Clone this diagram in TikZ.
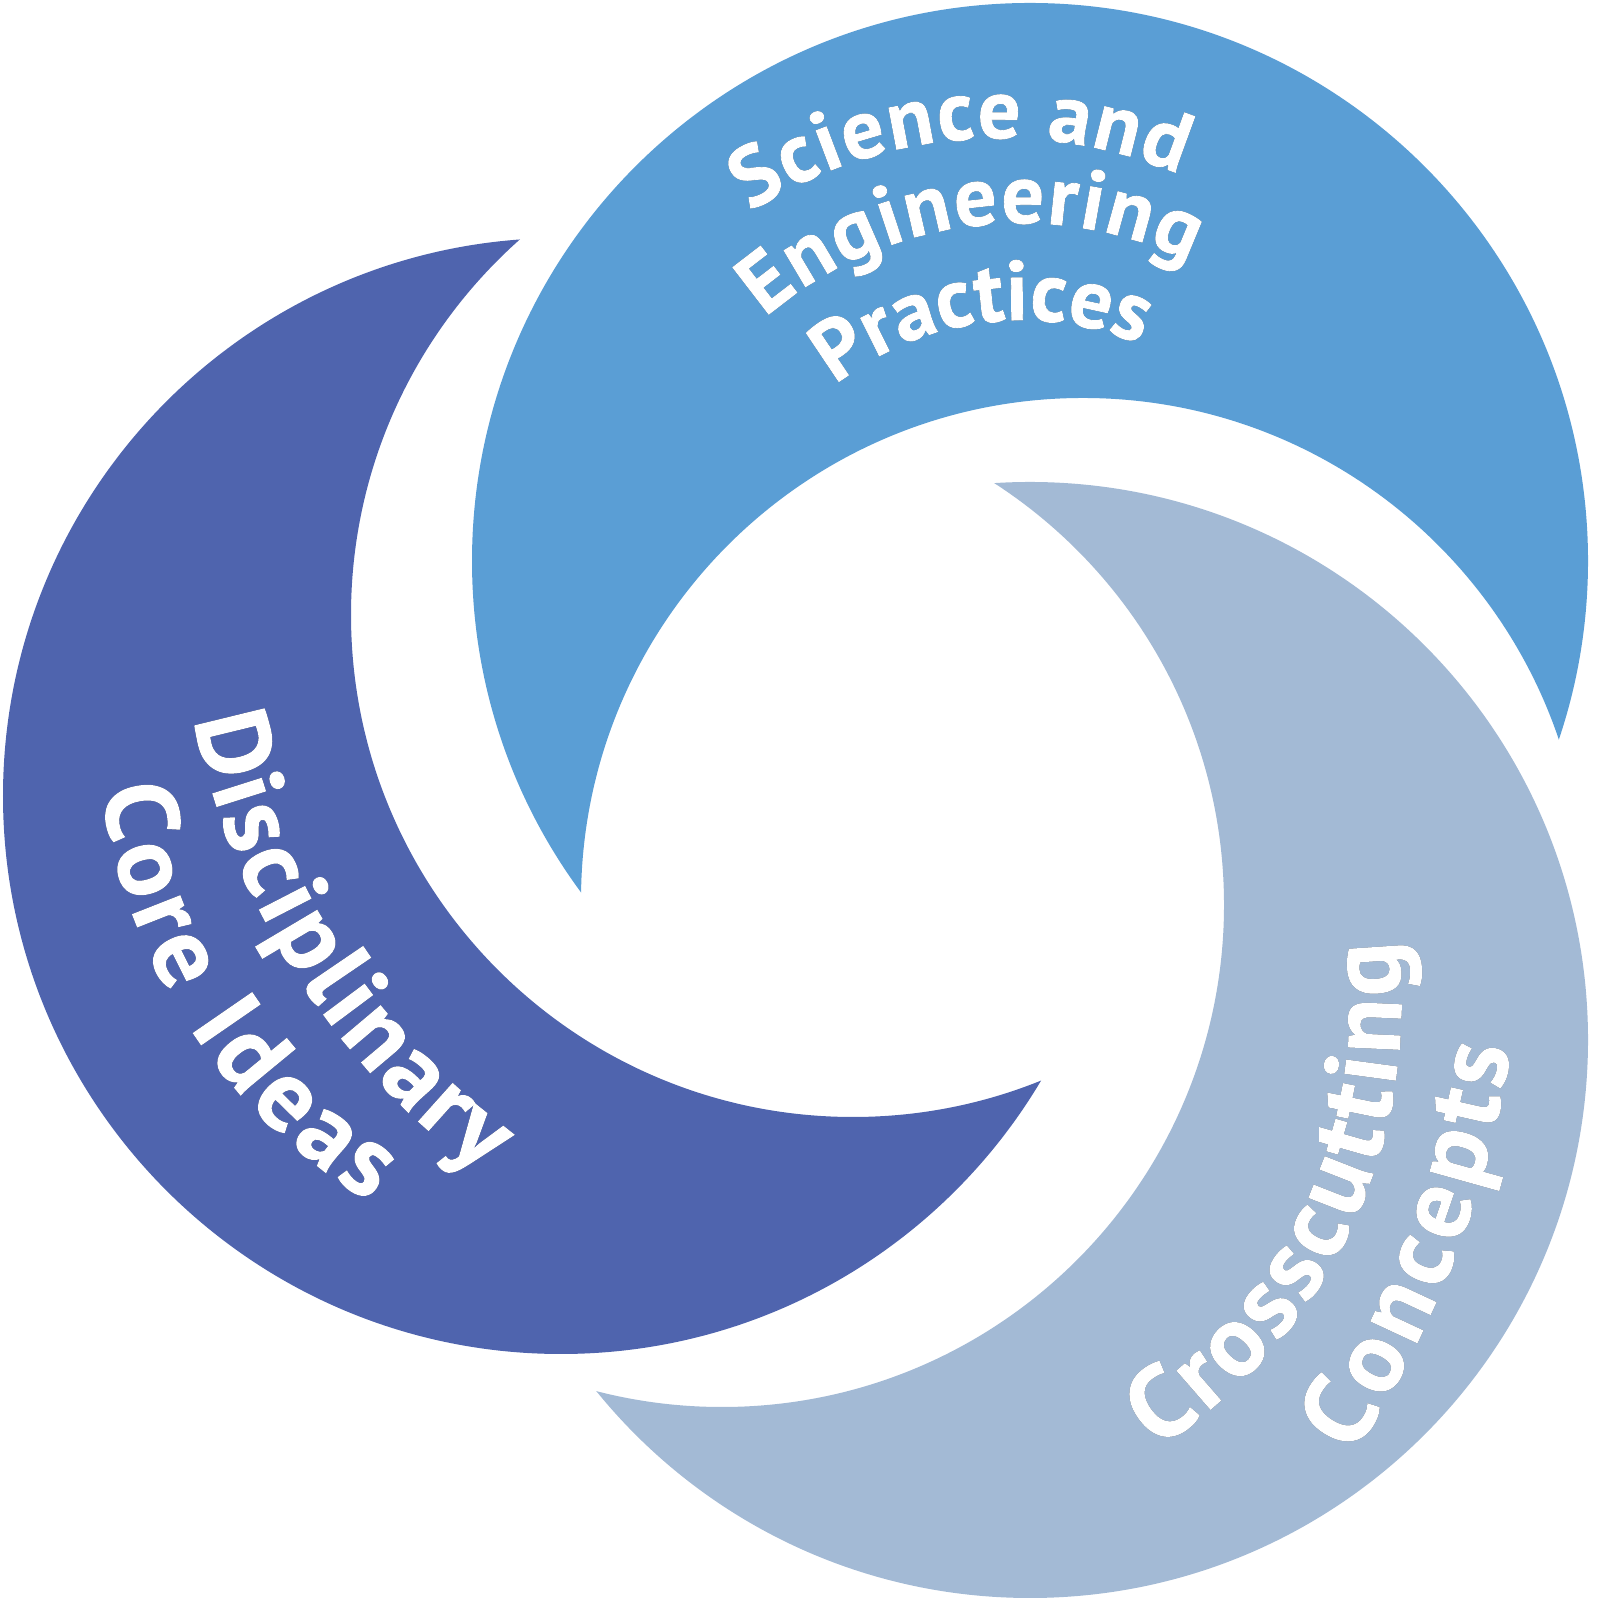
\documentclass[tikz,border=0pt]{standalone}
\usepackage{fontspec}
\newfontfamily\labelsans{PT Sans}[BoldFeatures={FakeBold=1}]
\usetikzlibrary{decorations.text}
\definecolor{practblue}{HTML}{5A9ED5}
\definecolor{coreblue}{HTML}{4F64AE}
\definecolor{crossblue}{HTML}{A3BAD5}
\newcommand{\topfont}{\labelsans\fontsize{24}{29}\selectfont\bfseries}
\newcommand{\sidefont}{\labelsans\fontsize{29}{34}\selectfont\bfseries}
% centre, radius, start, end, colour, font, text
\newcommand{\arclabel}[7]{%
  \path[xshift=0.3mm,yshift=-0.35mm,decorate,decoration={text along path,text align={fit to path},text color=#5!40!black,text={|#6|#7}}] (#1) ++(#3:#2) arc[start angle=#3,end angle=#4,radius=#2];
  \path[decorate,decoration={text along path,text align={fit to path},text color=white,text={|#6|#7}}] (#1) ++(#3:#2) arc[start angle=#3,end angle=#4,radius=#2];}
% outer centre, inner centre, colour
\newcommand{\crescent}[3]{%
  \begin{scope}[even odd rule]
    \clip (-1,-1) rectangle (17,17) (#2) circle (5.02);
    \fill[#3] (#1) circle (5.58);
  \end{scope}}

\begin{document}
\begin{tikzpicture}
         \useasboundingbox (0,0) rectangle (16,16);
         \coordinate (practO) at (10.30, 10.39);
         \coordinate (practI) at (10.83, 7.00);
         \coordinate (coreO) at (5.61, 8.04);
         \coordinate (coreI) at (8.53, 9.85);
         \coordinate (crossO) at (10.30, 5.60);
         \coordinate (crossI) at (7.22, 6.95);
         \coordinate (practT1) at (10.00, 10.02);
         \coordinate (practT2) at (10.20, 9.87);
         \coordinate (practT3) at (10.22, 9.80);
         \coordinate (coreT1) at (9.25, 10.25);
         \coordinate (coreT2) at (6.60, 8.80);
         \coordinate (crossT1) at (8.73, 5.97);
         \coordinate (crossT2) at (4.91, 7.13);
         \crescent{practO}{practI}{practblue}
         \crescent{coreO}{coreI}{coreblue}
         \crescent{crossO}{crossI}{crossblue}
         \arclabel{practT1}{4.60}{122.9}{67.1}{practblue}{\topfont}{Science and}
         \arclabel{practT2}{3.90}{130.8}{64.2}{practblue}{\topfont}{Engineering}
         \arclabel{practT3}{3.00}{128.5}{67}{practblue}{\topfont}{Practices}
         \arclabel{coreT1}{7.45}{191.2}{233.5}{coreblue}{\sidefont}{Disciplinary}
         \arclabel{coreT2}{5.62}{187}{239}{coreblue}{\sidefont}{Core Ideas}
         \arclabel{crossT1}{5.28}{302.4}{366.8}{crossblue}{\sidefont}{Crosscutting}
         \arclabel{crossT2}{10.32}{326.6}{351}{crossblue}{\sidefont}{Concepts}
\end{tikzpicture}
\end{document}
